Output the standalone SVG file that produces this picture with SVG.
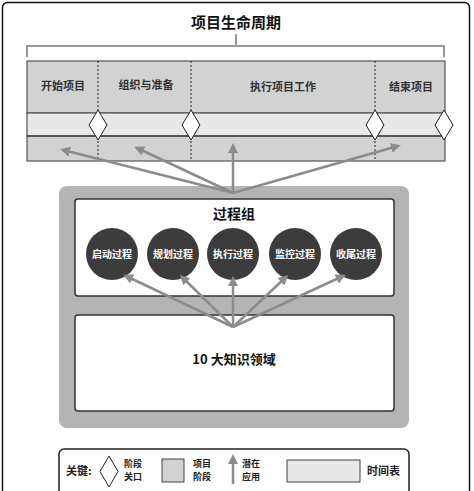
<svg xmlns="http://www.w3.org/2000/svg" width="474" height="491" viewBox="0 0 474 491">
<style>
text{font-family:"Noto Sans CJK SC","Noto Sans",sans-serif;}
.lbl{font-size:11px;font-weight:bold;fill:#333;text-anchor:middle;}
.ct{font-size:10px;font-weight:bold;fill:#fff;text-anchor:middle;}
.lg{font-size:11px;font-weight:bold;fill:#222;}
.lg2{font-size:9px;font-weight:bold;fill:#222;}
.arr{stroke:#8c8c8c;stroke-width:2.5;fill:none;marker-end:url(#ah);}
.div{stroke:#222;stroke-width:1;stroke-dasharray:2,2;}
.dia{fill:#fff;stroke:#222;stroke-width:1;}
.circ{fill:#3c3c3c;}
</style>
<defs>
<marker id="ah" markerWidth="10" markerHeight="10" refX="7" refY="5" orient="auto" markerUnits="userSpaceOnUse">
<path d="M0,0 L10,5 L0,10 Z" fill="#8c8c8c"/>
</marker>
</defs>
<rect x="0" y="0" width="474" height="491" fill="#fff"/>
<g id="frame">
<rect x="2.5" y="2.5" width="467" height="500" rx="5" fill="#fff" stroke="#111" stroke-width="1.5"/>
</g>
<g id="lifecycle">
<text x="236" y="28" font-size="15" font-weight="bold" text-anchor="middle" fill="#111">项目生命周期</text>
<path d="M27,57 V46 H444 V57 M236,46 V34" fill="none" stroke="#999" stroke-width="2"/>
<rect x="27" y="61" width="418" height="52" fill="#d2d2d2" stroke="#555" stroke-width="1.2"/>
<rect x="27" y="113" width="418" height="23" fill="#e8e8e8" stroke="#555" stroke-width="1.2"/>
<rect x="27" y="136" width="418" height="25" fill="#d2d2d2" stroke="#555" stroke-width="1.2"/>
<line x1="27" y1="136" x2="445" y2="136" stroke="#555" stroke-width="2"/>
<line class="div" x1="98" y1="61" x2="98" y2="161"/>
<line class="div" x1="191" y1="61" x2="191" y2="161"/>
<line class="div" x1="375" y1="61" x2="375" y2="161"/>
<text class="lbl" x="63" y="90">开始项目</text>
<text class="lbl" x="146" y="89">组织与准备</text>
<text class="lbl" x="283" y="91">执行项目工作</text>
<text class="lbl" x="411" y="91">结束项目</text>
<polygon class="dia" points="98,110 107,125 98,140 89,125"/>
<polygon class="dia" points="191,110 200,125 191,140 182,125"/>
<polygon class="dia" points="375,110 384,125 375,140 366,125"/>
<polygon class="dia" points="444,110 453,125 444,140 435,125"/>
</g>
<g id="container">
<rect x="59" y="186" width="350" height="242" rx="8" fill="#b4b4b4"/>
</g>
<g id="process-group">
<rect x="75" y="199" width="319" height="97" rx="3" fill="#fff" stroke="#333" stroke-width="1.5"/>
<text x="234" y="219" font-size="14" font-weight="bold" text-anchor="middle" fill="#111">过程组</text>
</g>
<g id="p1"><circle class="circ" cx="112" cy="254" r="26"/><text class="ct" x="112" y="257.5">启动过程</text></g>
<g id="p2"><circle class="circ" cx="173" cy="254" r="26"/><text class="ct" x="173" y="257.5">规划过程</text></g>
<g id="p3"><circle class="circ" cx="233" cy="254" r="26"/><text class="ct" x="233" y="257.5">执行过程</text></g>
<g id="p4"><circle class="circ" cx="295" cy="254" r="26"/><text class="ct" x="295" y="257.5">监控过程</text></g>
<g id="p5"><circle class="circ" cx="356" cy="254" r="26"/><text class="ct" x="356" y="257.5">收尾过程</text></g>
<g id="knowledge">
<rect x="75" y="315" width="319" height="96" rx="3" fill="#fff" stroke="#333" stroke-width="1.5"/>
<text x="234" y="364" font-size="13" font-weight="bold" text-anchor="middle" fill="#111">10 大知识领域</text>
</g>
<g id="connectors">
<line class="arr" x1="233" y1="193" x2="63" y2="150"/>
<line class="arr" x1="233" y1="193" x2="137" y2="148"/>
<line class="arr" x1="233" y1="193" x2="233" y2="146"/>
<line class="arr" x1="233" y1="193" x2="398" y2="146"/>
<line class="arr" x1="233" y1="327" x2="126" y2="276"/>
<line class="arr" x1="233" y1="327" x2="182" y2="277"/>
<line class="arr" x1="233" y1="327" x2="233" y2="279"/>
<line class="arr" x1="233" y1="327" x2="286" y2="277"/>
<line class="arr" x1="233" y1="327" x2="343" y2="276"/>
</g>
<g id="legend">
<rect x="59" y="449" width="350" height="60" rx="5" fill="#fff" stroke="#222" stroke-width="1.5"/>
<text class="lg" x="66" y="475">关键:</text>
<polygon class="dia" points="109,456 118,471.5 109,487 100,471.5"/>
<text class="lg2" x="124" y="466.5">阶段</text>
<text class="lg2" x="124" y="479.5">关口</text>
<rect x="162" y="459" width="22" height="23" fill="#d2d2d2" stroke="#444" stroke-width="1"/>
<text class="lg2" x="193" y="466.5">项目</text>
<text class="lg2" x="193" y="479.5">阶段</text>
<line class="arr" x1="233" y1="484" x2="233" y2="457"/>
<text class="lg2" x="242" y="466.5">潜在</text>
<text class="lg2" x="242" y="479.5">应用</text>
<rect x="287" y="460" width="73" height="22" fill="#e8e8e8" stroke="#444" stroke-width="1"/>
<text class="lg" x="367" y="475">时间表</text>
</g>
</svg>
